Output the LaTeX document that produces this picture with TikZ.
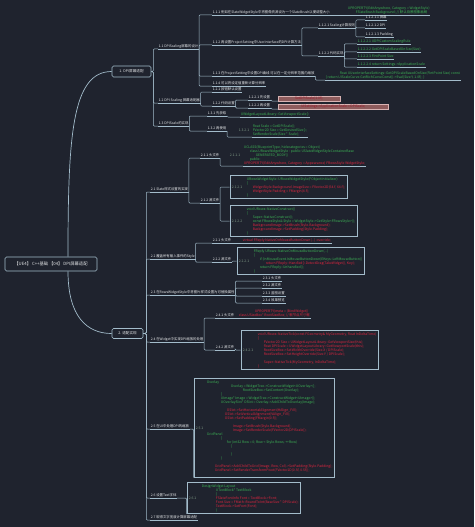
\documentclass[tikz,border=0pt]{standalone}
\usepackage{fontspec}
\setmainfont{Noto Sans CJK SC}
\usepackage{xcolor}
\usepackage{tikz}
\usetikzlibrary{
positioning,
fit,
calc
}

\definecolor{bgc}{HTML}{1F232E}
\definecolor{linec}{HTML}{A3BCCB}
\definecolor{txtc}{HTML}{E6E8EA}
\definecolor{codeg}{HTML}{3DB556}
\definecolor{codered}{HTML}{E0253F}
\definecolor{lblc}{HTML}{7F9A86}
\definecolor{barc}{HTML}{8E5B5C}
\definecolor{barline}{HTML}{D8B2B2}

\newcommand{\tinyfont}{\fontsize{3.4}{4}\selectfont}
\newcommand{\redln}[1]{\textcolor{codered}{#1}}
\newcommand{\ind}[1]{\hspace*{#1pt}}

\begin{document}
\begin{tikzpicture}[
x=1pt, y=-1pt,
box/.style={
draw=linec,
line width=.6pt,
rounded corners=1.5pt,
text=txtc,
inner sep=1pt
},
topic/.style={
anchor=south west,
text=txtc,
font=\tinyfont,
inner xsep=.6pt,
inner ysep=.8pt,
append after command={(\tikzlastnode.south west) edge[link] (\tikzlastnode.south east)}
},
codeline/.style={topic, text=codeg, align=left},
code/.style={text=codeg, font=\tinyfont, align=left, inner sep=.6pt},
lbl/.style={text=lblc, font=\tinyfont, inner sep=.6pt},
frame/.style={draw=linec, line width=.5pt, inner sep=1.2pt},
bar/.style={
anchor=south west,
fill=barc,
draw=barline,
line width=.4pt,
text=codered!70!black,
font=\tinyfont,
inner sep=.5pt,
minimum height=5pt
},
link/.style={draw=linec, line width=.5pt, rounded corners=1pt},
branch/.style={draw=linec, line width=.7pt}
]

\path[use as bounding box, fill=bgc] (0,0) rectangle (474,527);

% root and main branches
\node[box, minimum width=92pt, minimum height=14pt, font=\fontsize{4.3}{5}\selectfont] (root) at (51,264) {【UE4】 C++基础 【04】 DPI屏幕适配};
\node[box, minimum width=39pt, minimum height=11pt, font=\fontsize{3.6}{4}\selectfont] (b1) at (131.5,71.5) {1. DPI屏幕适配};
\node[box, minimum width=31pt, minimum height=10pt, font=\fontsize{3.6}{4}\selectfont] (b2) at (127.5,333.5) {2. 适配实现};

\draw[branch] ([xshift=17pt]root.north) .. controls +(0,-120) and +(-40,0) .. (b1.west);
\draw[branch] ([xshift=17pt]root.south) .. controls +(0,45) and +(-25,0) .. (b2.west);

\coordinate (f1) at ([xshift=2pt]b1.east);
\coordinate (f2) at ([xshift=3pt]b2.east);

% ---- 1. DPI
\node[topic] (n11) at (158,49) {1.1 DPIScaling屏幕的设计};
\node[topic] (n12) at (158,103) {1.2 DPI Scaling 屏幕适配器};
\node[topic] (n13) at (158,126) {1.3 DPIScale的实现};

\node[topic] (n111) at (212,15) {1.1.1 例如在SlateWidgetStyle中将图像资源设为一个SlateBrush以便调整大小};
\node[codeline] (k111) at (347,15) {UPROPERTY(EditAnywhere, Category = WidgetStyle)\\\ind{8}FSlateBrush Background; // 默认背景图像画刷};

\node[topic] (n112) at (212,45) {1.1.2 再设置ProjectSetting中UserInterface的DPI计算方法};
\node[topic] (n1121) at (318,28) {1.1.2.1 Scaling计算规则};
\node[topic] (n11211) at (365,20) {1.1.2.1.1 屏幕};
\node[topic] (n11212) at (365,28) {1.1.2.1.2 DPI};
\node[topic] (n11213) at (365,37) {1.1.2.1.3 Padding};
\node[topic] (n1122) at (318,56) {1.1.2.2 代码实现};
\node[codeline] (k11221) at (357,44) {1.1.2.2.1 UDPICustomScalingRule};
\node[codeline] (k11222) at (357,52) {1.1.2.2.2 GetDPIScaleBasedOnSize(Size)};
\node[codeline] (k11223) at (357,59) {1.1.2.2.3 FIntPoint Size};
\node[codeline] (k11224) at (357,67) {1.1.2.2.4 return Settings->ApplicationScale};

\node[topic] (n113) at (212,76) {1.1.3 在ProjectSetting中设置DPI曲线 可以在一定分辨率范围内缩放};
\node[codeline] (k113) at (325,80) {\ind{14}float UUserInterfaceSettings::GetDPIScaleBasedOnSize(FIntPoint Size) const\\\{ return UIScaleCurve.GetRichCurveConst()->Eval(Size.Y, 1.0f); \}};
\node[topic] (n114) at (212,86) {1.1.4 可以将设定值重新计算分辨率};

\node[topic] (n121) at (212,92) {1.2.1 按钮默认设置};
\node[topic] (n122) at (212,106) {1.2.2 代码设置};
\node[topic] (n1221) at (248,100) {1.2.2.1 先设置};
\node[bar, minimum width=62pt] (k1221) at (278,101) {SetDPIScale(1.0f);};
\node[topic] (n1222) at (248,108) {1.2.2.2 再设置};
\node[bar, minimum width=110pt] (k1222) at (278,109) {UISettings->ApplicationScale = DPIScale;};

\node[topic] (n131) at (207,116) {1.3.1 先获取};
\node[codeline] (k131) at (240,117) {UWidgetLayoutLibrary::GetViewportScale()};
\node[topic] (n132) at (207,131) {1.3.2 再使用};
\node[codeline] (k1321) at (252,137) {float Scale = GetDPIScale();\\FVector2D Size = GetDesiredSize();\\SetRenderScale(Size * Scale);};
\node[lbl, left=2pt of k1321] (l1321) {1.3.2.1};

\foreach \k in {n11,n12,n13}
  \draw[link] (b1.east) -- (f1) |- (\k.south west);
\foreach \k in {n111,n112,n113,n114}
  \draw[link] (n11.south east) |- (\k.south west);
\draw[link] (n111.south east) -- (k111.south west);
\foreach \k in {n1121,n1122}
  \draw[link] (n112.south east) |- (\k.south west);
\foreach \k in {n11211,n11212,n11213}
  \draw[link] (n1121.south east) |- (\k.south west);
\foreach \k in {k11221,k11222,k11223,k11224}
  \draw[link] (n1122.south east) |- (\k.south west);
\draw[link] (n113.south east) |- (k113.south west);
\foreach \k in {n121,n122}
  \draw[link] (n12.south east) |- (\k.south west);
\foreach \k in {n1221,n1222}
  \draw[link] (n122.south east) |- (\k.south west);
\draw[link] (n1221.south east) |- (k1221.south west);
\draw[link] (n1222.south east) |- (k1222.south west);
\foreach \k in {n131,n132}
  \draw[link] (n13.south east) |- (\k.south west);
\draw[link] (n131.south east) |- (k131.south west);
\draw[link] (n132.south east) |- (k1321.south west);

% ---- 2. implementation
\node[topic] (n21) at (150,192) {2.1 Slate样式设置的实现};
\node[topic] (n211) at (200,158) {2.1.1 头文件};
\node[codeline] (k2111) at (243,166) {UCLASS(BlueprintType, hidecategories = Object)\\\ind{6}class URowsWidgetStyle : public USlateWidgetStyleContainerBase\\\ind{12}GENERATED\_BODY()\\\ind{6}public:\\\redln{UPROPERTY(EditAnywhere, Category = Appearance) FRowsStyle WidgetStyle;}};
\node[lbl, left=2pt of k2111] (l2111) {2.1.1.1};
\node[topic] (n212) at (200,203) {2.1.2 源文件};
\node[lbl, anchor=west] (l2121) at (231,187) {2.1.2.1};
\node[code, right=3pt of l2121] (k2121) {URowsWidgetStyle::URowsWidgetStyle(FObjectInitializer)\\\{\\\ind{6}\redln{WidgetStyle.Background.ImageSize = FVector2D(64.f, 64.f);}\\\ind{6}\redln{WidgetStyle.Padding = FMargin(4.f);}\\\}};
\node[frame, fit=(l2121)(k2121)] (f2121) {};
\node[lbl, anchor=west] (l2122) at (231,221) {2.1.2.2};
\node[code, right=3pt of l2122] (k2122) {void URows::NativeConstruct()\\\{\\\ind{6}Super::NativeConstruct();\\\ind{6}const FRowsStyle\& Style = WidgetStyle->GetStyle<FRowsStyle>();\\\ind{6}\redln{BackgroundImage->SetBrush(Style.Background);}\\\ind{6}\redln{BackgroundImage->SetPadding(Style.Padding);}\\\}};
\node[frame, fit=(l2122)(k2122)] (f2122) {};

\node[topic] (n22) at (150,259) {2.2 覆盖所有输入事件的Style};
\node[topic] (n221) at (212,243) {2.2.1 头文件};
\node[codeline, text=codered] (k221) at (242,243) {virtual FReply NativeOnMouseButtonDown(...) override;};
\node[topic] (n222) at (212,262) {2.2.2 源文件};
\node[lbl, anchor=west] (l2221) at (238,261) {2.2.2.1};
\node[code, right=3pt of l2221] (k2221) {FReply URows::NativeOnMouseButtonDown(...)\\\{\\\ind{6}if (InMouseEvent.IsMouseButtonDown(EKeys::LeftMouseButton))\\\ind{12}\redln{return FReply::Handled().DetectDrag(TakeWidget(), Key);}\\\ind{6}return FReply::Unhandled();\\\}};
\node[frame, fit=(l2221)(k2221)] (f2221) {};

\node[topic] (n23) at (150,295) {2.3 在RowsWidgetStyle中将图片样式设置为可替换属性};
\node[topic] (n231) at (262,281) {2.3.1 头文件};
\node[topic] (n232) at (262,288) {2.3.2 源文件};
\node[topic] (n233) at (262,296) {2.3.3 蓝图设置};
\node[topic] (n234) at (262,303) {2.3.4 效果预览};

\node[topic] (n24) at (150,342) {2.4 在Widget中实现DPI缩放的处理};
\node[topic] (n241) at (215,318) {2.4.1 头文件};
\node[codeline, text=codered] (k241) at (238,318) {\ind{16}UPROPERTY(meta = (BindWidget))\\class USizeBox* RootSizeBox; // 根节点尺寸框};
\node[topic] (n242) at (215,350) {2.4.2 源文件};
\node[lbl, anchor=west] (l2421) at (242,350) {2.4.2.1};
\node[code, right=3pt of l2421, text=codered] (k2421) {void URows::NativeTick(const FGeometry\& MyGeometry, float InDeltaTime)\\\{\\\ind{6}FVector2D Size = UWidgetLayoutLibrary::GetViewportSize(this);\\\ind{6}float DPIScale = UWidgetLayoutLibrary::GetViewportScale(this);\\\ind{6}RootSizeBox->SetWidthOverride(Size.X / DPIScale);\\\ind{6}RootSizeBox->SetHeightOverride(Size.Y / DPIScale);\\~\\\ind{6}Super::NativeTick(MyGeometry, InDeltaTime);\\\}};
\node[frame, fit=(l2421)(k2421)] (f2421) {};

\node[topic] (n25) at (150,429) {2.5 在UI中处理DPI的缩放};
\node[lbl, anchor=west] (l251) at (195,428) {2.5.1};
\node[code, right=2pt of l251] (k251) {Overlay\\\ind{24}Overlay = WidgetTree->ConstructWidget<UOverlay>();\\\ind{36}RootSizeBox->SetContent(Overlay);\\\ind{14}\{\\\ind{14}UImage* Image = WidgetTree->ConstructWidget<UImage>();\\\ind{14}UOverlaySlot* OSlot = Overlay->AddChildToOverlay(Image);\\~\\\ind{20}\redln{OSlot->SetHorizontalAlignment(HAlign\_Fill);}\\\ind{18}\redln{OSlot->SetVerticalAlignment(VAlign\_Fill);}\\\ind{18}\redln{OSlot->SetPadding(FMargin(0.f));}\\~\\\ind{26}\redln{Image->SetBrush(Style.Background);}\\\ind{26}\redln{Image->SetRenderScale(FVector2D(DPIScale));}\\GridPanel\\\ind{14}\{\\\ind{20}for (int32 Row = 0; Row < Style.Rows; ++Row)\\\ind{24}\{\\~\\\ind{24}\}\\\ind{14}\}\\~\\\ind{8}\redln{GridPanel->AddChildToGrid(Image, Row, Col)->SetPadding(Style.Padding);}\\\ind{8}\redln{GridPanel->SetRenderTransformPivot(FVector2D(0.5f, 0.5f));}\\~};
\node[frame, fit=(l251)(k251)] (f251) {};

\node[topic] (n26) at (150,498) {2.6 设置Text字体};
\node[lbl, anchor=west] (l261) at (188,498) {2.6.1};
\node[code, right=4pt of l261] (k261) {DesignWidget Layout\\\ind{14}UTextBlock* TextBlock\\\ind{14}\{\\\ind{14}\redln{FSlateFontInfo Font = TextBlock->Font;}\\\ind{14}\redln{Font.Size = FMath::RoundToInt(BaseSize * DPIScale);}\\\ind{14}\redln{TextBlock->SetFont(Font);}\\\ind{14}\}};
\node[frame, fit=(l261)(k261)] (f261) {};

\node[topic] (n27) at (150,520) {2.7 取得文字宽度计算屏幕适配};

\foreach \k in {n21,n22,n23,n24,n25,n26,n27}
  \draw[link] (b2.east) -- (f2) |- (\k.south west);
\foreach \k in {n211,n212}
  \draw[link] (n21.south east) |- (\k.south west);
\draw[link] (n211.south east) |- (k2111.south west);
\foreach \k in {f2121,f2122}
  \draw[link] (n212.south east) |- (\k.west);
\foreach \k in {n221,n222}
  \draw[link] (n22.south east) |- (\k.south west);
\draw[link] (n221.south east) -- (k221.south west);
\draw[link] (n222.south east) |- (f2221.west);
\foreach \k in {n231,n232,n233,n234}
  \draw[link] (n23.south east) |- (\k.south west);
\foreach \k in {n241,n242}
  \draw[link] (n24.south east) |- (\k.south west);
\draw[link] (n241.south east) -- (k241.south west);
\draw[link] (n242.south east) |- (f2421.west);
\draw[link] (n25.south east) -| (f251.south west);
\draw[link] (n26.south east) -| (f261.south west);

\end{tikzpicture}
\end{document}
